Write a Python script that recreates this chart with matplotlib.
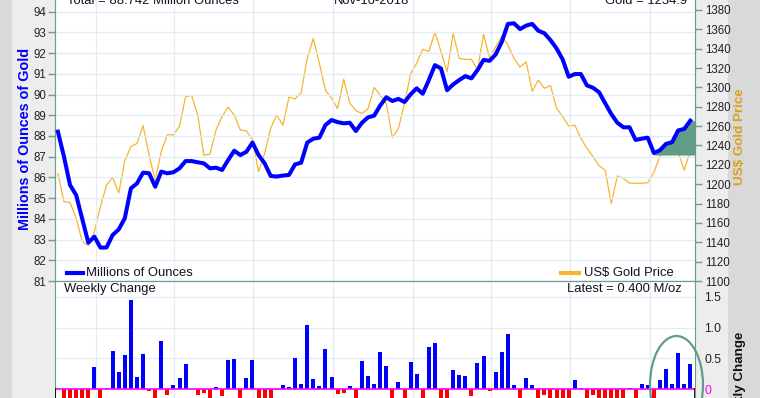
import numpy as np
import matplotlib
matplotlib.use('Agg')
import matplotlib.pyplot as plt
import matplotlib.dates as mdates
from matplotlib.lines import Line2D
from matplotlib.patches import Ellipse, Rectangle
from matplotlib.transforms import IdentityTransform

plt.rcParams['font.family'] = ['Liberation Sans', 'DejaVu Sans']

# weekly data, first week 2016-11-18, last week 2018-11-16
first_week = np.datetime64('2016-11-18')

# total holdings, millions of ounces
holdings = [88.21, 87.00, 85.63, 85.15, 84.00, 82.85, 83.14, 82.61, 82.62, 83.22,
            83.49, 84.03, 85.47, 85.71, 86.23, 86.20, 85.55, 86.28, 86.20, 86.25,
            86.44, 86.79, 86.79, 86.73, 86.68, 86.44, 86.47, 86.36, 86.84, 87.29,
            87.08, 87.24, 87.68, 87.08, 86.68, 86.07, 86.04, 86.09, 86.12, 86.63,
            86.71, 87.68, 87.87, 87.92, 88.53, 88.77, 88.67, 88.61, 88.64, 88.24,
            88.64, 88.90, 88.98, 89.47, 89.87, 89.69, 89.79, 89.64, 90.01, 90.30,
            90.04, 90.70, 91.42, 91.26, 90.21, 90.49, 90.70, 90.89, 90.78, 91.18,
            91.67, 91.63, 91.94, 92.55, 93.41, 93.44, 93.16, 93.33, 93.41, 93.08,
            92.96, 92.63, 92.23, 91.70, 90.86, 90.99, 90.99, 90.44, 90.33, 90.11,
            89.58, 89.06, 88.64, 88.42, 88.42, 87.81, 87.87, 87.92, 87.18, 87.31,
            87.62, 87.70, 88.27, 88.34, 88.742]

# US$ gold price
gold_price = [1211, 1182, 1181, 1165, 1141, 1136.5, 1151, 1177, 1199, 1207,
              1191, 1224, 1239, 1242, 1260.5, 1230, 1204, 1234, 1251, 1251,
              1260, 1290.5, 1291.5, 1271.5, 1230, 1231, 1256, 1270, 1279.5, 1271.5,
              1256, 1255, 1246, 1213, 1232, 1258, 1271.5, 1261, 1290, 1288,
              1294.5, 1330, 1350.5, 1325, 1297, 1289, 1278, 1308.5, 1284, 1276,
              1273, 1278, 1300, 1292, 1283.5, 1248, 1257.5, 1283.5, 1314, 1325,
              1339.5, 1337, 1357, 1337, 1316, 1356, 1330, 1329, 1329, 1318,
              1355, 1330, 1342, 1353, 1344, 1330, 1321, 1326.5, 1296, 1307.5,
              1299, 1302, 1278.5, 1270, 1260, 1261, 1247.5, 1237, 1228.5, 1219,
              1214.5, 1180, 1208.5, 1206, 1201, 1201, 1201, 1201.5, 1212, 1229,
              1239, 1240.5, 1233.5, 1214.5, 1234.9]

# weekly change, M/oz (from the second week on)
weekly_change = [-1.21, -1.37, -0.48, -1.15, -1.13, 0.36, -0.53, 0.02, 0.62, 0.28,
                 0.55, 1.45, 0.20, 0.57, -0.04, -0.65, 0.78, -0.09, 0.065, 0.18,
                 0.41, 0.0, -0.09, -0.065, -0.24, 0.03, -0.12, 0.47, 0.49, -0.21,
                 0.18, 0.47, -0.60, -0.40, -0.61, -0.02, 0.065, 0.03, 0.505, 0.08,
                 1.04, 0.16, 0.05, 0.65, 0.20, -0.076, -0.06, 0.05, -0.40, 0.46,
                 0.21, 0.08, 0.60, 0.375, -0.18, 0.11, -0.17, 0.44, 0.245, -0.26,
                 0.685, 0.75, -0.18, -1.05, 0.31, 0.23, 0.21, -0.11, 0.42, 0.54,
                 -0.04, 0.28, 0.60, 0.90, 0.065, -0.28, 0.18, 0.065, -0.33, -0.09,
                 -0.33, -0.40, -0.53, -0.84, 0.15, 0.015, -0.55, -0.09, -0.22, -0.53,
                 -0.52, -0.42, -0.22, 0.015, -0.61, 0.08, 0.065, -0.72, 0.15, 0.33,
                 0.08, 0.59, 0.08, 0.40]

highlight_from = 98   # start of the shaded recent run

weeks = first_week + np.arange(len(holdings)) * np.timedelta64(7, 'D')
wnum = mdates.date2num(weeks)

W, H = 760, 398
def fx(px):
    return px / W
def fy(py):
    return 1 - py / H

spine_col = '#6e9c8c'
grid_col = '#e1ecf6'
green = '#619c86'
gold = '#f6b530'
text_col = '#111122'

fig = plt.figure(figsize=(7.6, 3.98), dpi=100, facecolor='#ededed')
fig.patches.append(Rectangle((0, 0), 12, H, transform=IdentityTransform(),
                             facecolor='#d9d9d9', edgecolor='none', zorder=-5))
fig.patches.append(Rectangle((728, 0), 32, H, transform=IdentityTransform(),
                             facecolor='#d9d9d9', edgecolor='none', zorder=-5))

x0 = wnum[0] - 0.477 * 7
x1 = wnum[-1] + 0.77 * 7

# ---- top panel: holdings + gold price ----
ax = fig.add_axes([fx(55), fy(281), fx(695) - fx(55), 281 / H])
axr = ax.twinx()
ax.set_zorder(axr.get_zorder() + 1)
ax.patch.set_visible(False)
axr.patch.set_visible(True)
axr.patch.set_facecolor('white')

axr.plot(wnum, gold_price, color=gold, lw=0.9)
ax.fill_between(np.append(wnum[highlight_from:], x1),
                np.append(holdings[highlight_from:], holdings[-1]),
                87.08, color=green, lw=0, zorder=3)
ax.plot(wnum, holdings, color='#0000ff', lw=2.9, solid_joinstyle='round', zorder=4)

ax.set_xlim(x0, x1)
ax.set_ylim(81, 94.565)
axr.set_ylim(1100, 1390.3)
ax.set_yticks(range(81, 95))
axr.set_yticks(range(1100, 1381, 20))
ax.xaxis.set_major_locator(mdates.MonthLocator(bymonth=[1, 4, 7, 10]))
ax.tick_params(axis='x', length=0, labelbottom=False)
ax.tick_params(axis='y', length=5, width=1, color=spine_col, labelsize=8.3,
               labelcolor='#222222', pad=1)
axr.tick_params(axis='y', length=5, width=1, color=spine_col, labelsize=8.3,
                labelcolor='#222222', pad=2)
ax.grid(True, color=grid_col, lw=1)
ax.set_axisbelow(True)
for a in (ax, axr):
    a.spines['top'].set_visible(False)
    for s in ('left', 'right', 'bottom'):
        a.spines[s].set_color(spine_col)

# ---- bottom panel: weekly change ----
ax2 = fig.add_axes([fx(55), 0, fx(695) - fx(55), fy(281)])
cols = ['#0000ff' if v >= 0 else '#ff0000' for v in weekly_change]
ax2.bar(wnum[1:], weekly_change, width=4.6, color=cols, zorder=2)
ax2.axhline(0, color='#ff00ff', lw=1.2, zorder=3)
ax2.set_xlim(x0, x1)
ax2.set_ylim(-0.146, 1.756)
ax2.xaxis.set_major_locator(mdates.MonthLocator(bymonth=[1, 4, 7, 10]))
ax2.tick_params(axis='x', length=0, labelbottom=False)
ax2.yaxis.tick_right()
ax2.set_yticks([0, 0.5, 1.0, 1.5])
ax2.set_yticklabels(['0', '0.5', '1.0', '1.5'])
ax2.tick_params(axis='y', length=0, labelsize=8.8, labelcolor='#222222', pad=6.5)
ax2.get_yticklabels()[0].set_color('#ff00ff')
ax2.grid(True, color=grid_col, lw=1)
ax2.set_axisbelow(True)
ax2.spines['bottom'].set_visible(False)
for s in ('left', 'right', 'top'):
    ax2.spines[s].set_color(spine_col)
ax2.axvline(x0, ymin=0, ymax=0.077, color='black', lw=1.2, zorder=5)
ax2.axvline(x1, ymin=0, ymax=0.077, color='black', lw=1.2, zorder=5)

# ---- texts ----
fs = 9.4
fig.text(fx(66.7), fy(4.3), 'Total = 88.742 Million Ounces', va='baseline',
         fontsize=fs, color=text_col)
fig.text(fx(334.3), fy(4.3), 'Nov-16-2018', va='baseline', fontsize=fs, color=text_col)
fig.text(fx(686.7), fy(4.3), 'Gold = 1234.9', va='baseline', ha='right',
         fontsize=fs, color=text_col)

fig.add_artist(Line2D([fx(66.7), fx(83.3)], [fy(272.7)] * 2, color='#0000ff', lw=3))
fig.text(fx(86), fy(272.7), 'Millions of Ounces', va='center', fontsize=fs, color=text_col)
fig.add_artist(Line2D([fx(561), fx(579)], [fy(272.7)] * 2, color=gold, lw=3))
fig.text(fx(584), fy(272.7), 'US$ Gold Price', va='center', fontsize=fs, color=text_col)

fig.text(fx(64.3), fy(289), 'Weekly Change', va='center', fontsize=fs, color=text_col)
fig.text(fx(682), fy(289), 'Latest = 0.400 M/oz', va='center', ha='right',
         fontsize=fs, color=text_col)

fig.text(fx(25), fy(139), 'Millions of Ounces of Gold', rotation=90, ha='center',
         va='center', fontsize=10.4, fontweight='bold', color='#0000ff')
fig.text(fx(740), fy(137), 'US$ Gold Price', rotation=90, ha='center',
         va='center', fontsize=9.6, fontweight='bold', color='#d9a21b')
fig.text(fx(740), fy(332), 'Weekly Change', rotation=90, ha='center',
         va='top', fontsize=9.6, fontweight='bold', color='#111111')

fig.patches.append(Ellipse((676.5, H - 385), 53, 98, transform=IdentityTransform(),
                           fill=False, edgecolor=green, lw=1.6, zorder=10))

fig.savefig('out.png', dpi=100, facecolor=fig.get_facecolor())
